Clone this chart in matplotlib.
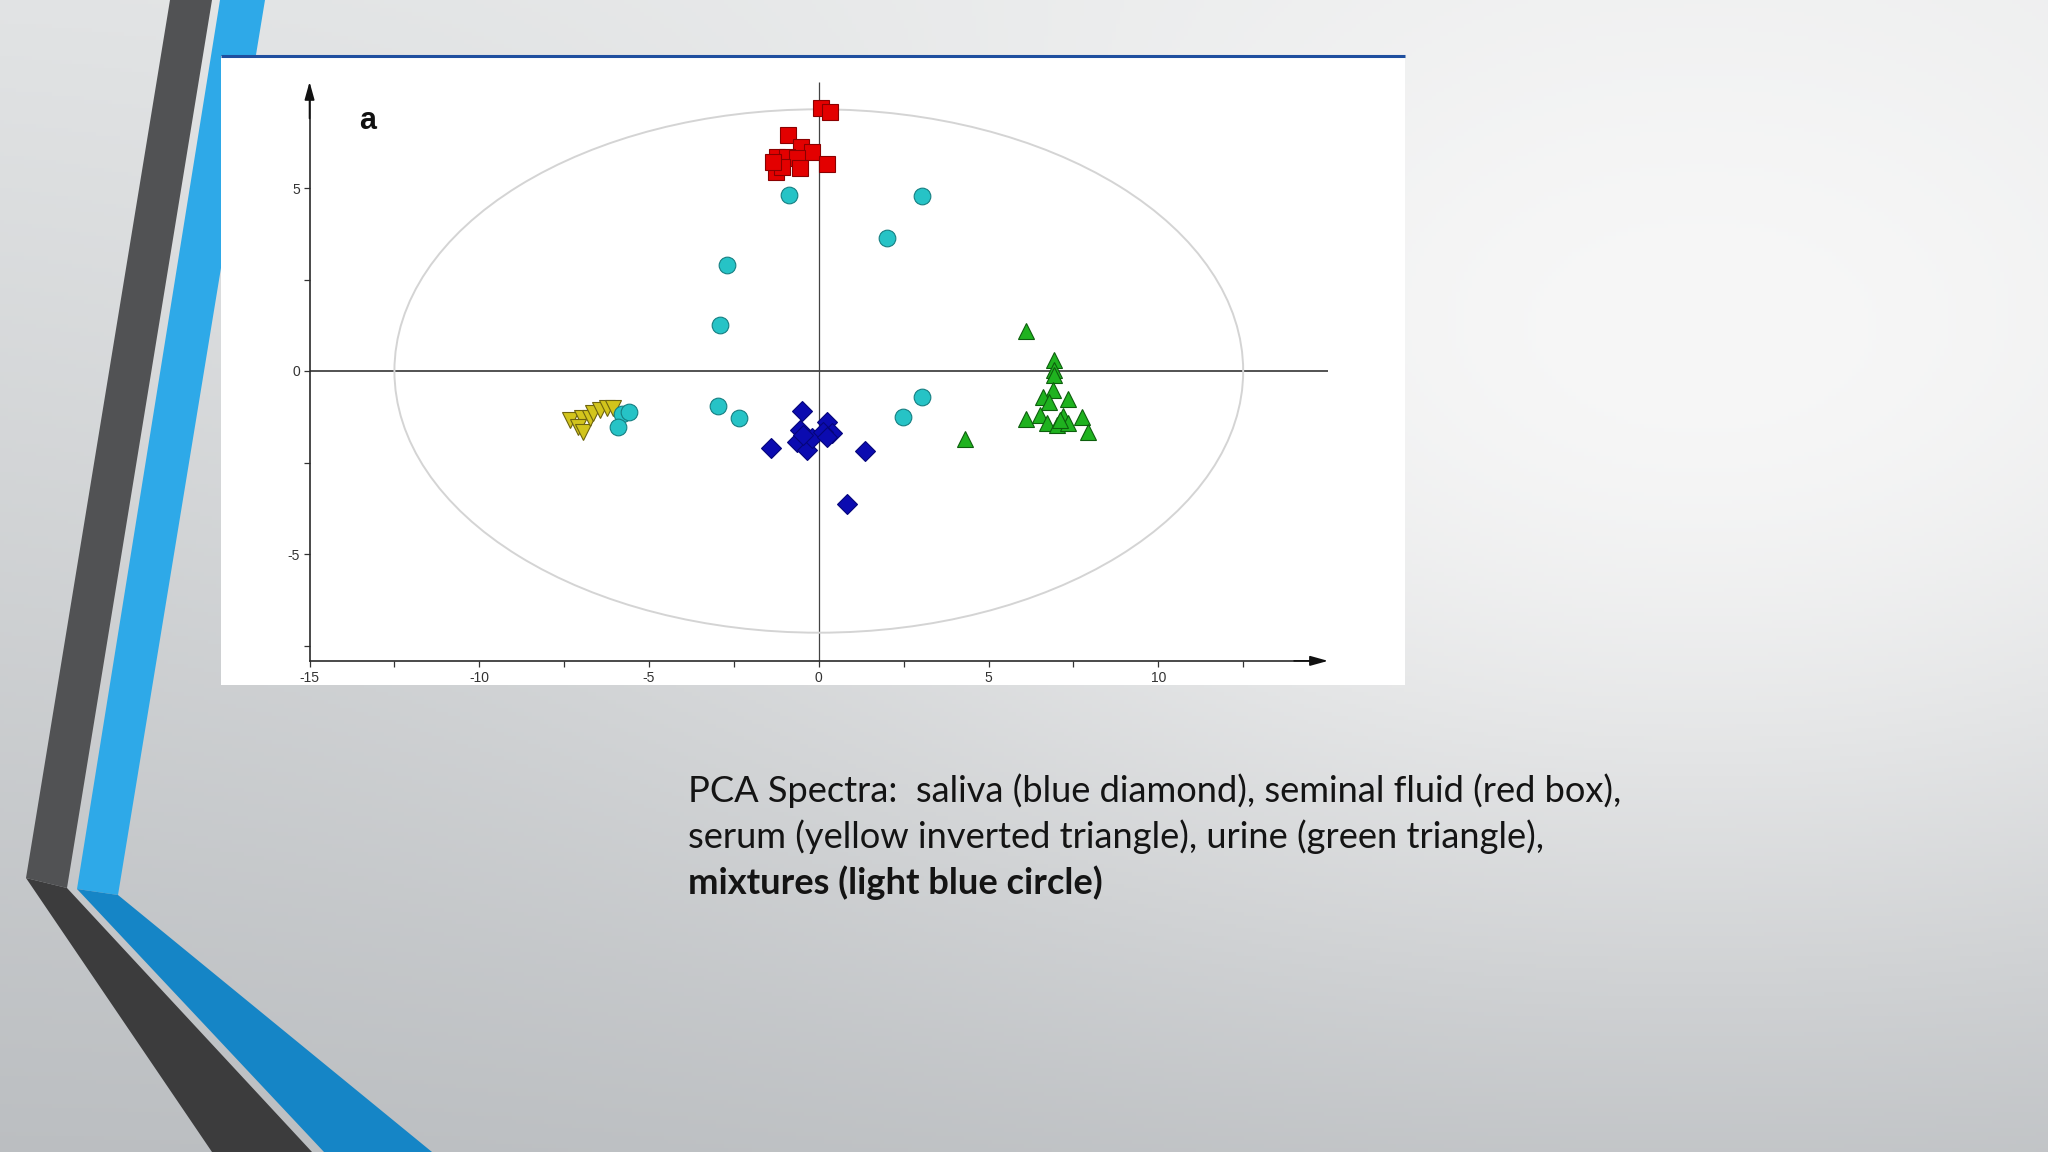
import numpy as np
import matplotlib
matplotlib.use('Agg')
import matplotlib.pyplot as plt
from matplotlib.patches import Polygon, Rectangle, Ellipse
from matplotlib import font_manager

# PCA scores
saliva_x = [-0.49, -1.41, 1.36, 0.84, 0.23, 0.38, -0.55, -0.65, -0.36, -0.21, 0.13, -0.46, 0.23]
saliva_y = [-1.09, -2.10, -2.19, -3.64, -1.40, -1.70, -1.61, -1.93, -2.16, -1.84, -1.66, -1.75, -1.79]

seminal_x = [0.06, 0.33, -0.92, -0.52, -0.21, -1.24, -0.95, -0.65, 0.25, -1.26, -0.55, -1.09, -1.34]
seminal_y = [7.18, 7.09, 6.45, 6.13, 5.99, 5.86, 5.86, 5.81, 5.66, 5.45, 5.54, 5.58, 5.72]

serum_x = [-7.33, -6.98, -7.08, -6.94, -6.74, -6.64, -6.45, -6.25, -6.05]
serum_y = [-1.34, -1.29, -1.52, -1.66, -1.29, -1.16, -1.07, -1.02, -1.02]

urine_x = [6.10, 6.93, 6.93, 6.93, 6.91, 6.59, 7.35, 6.79, 6.10, 6.52, 7.20, 7.74, 6.71, 7.01, 7.35, 7.94, 7.10, 4.31]
urine_y = [1.10, 0.30, 0.03, -0.10, -0.52, -0.70, -0.77, -0.84, -1.32, -1.20, -1.23, -1.27, -1.43, -1.48, -1.43, -1.66, -1.34, -1.86]

mixture_x = [-0.87, 3.04, 2.01, -2.70, -2.92, 3.04, 2.48, -2.97, -2.36, -5.81, -5.59, -5.90]
mixture_y = [4.81, 4.78, 3.63, 2.89, 1.26, -0.70, -1.25, -0.96, -1.29, -1.18, -1.13, -1.52]

x_ticks = [-15, -10, -5, 0, 5, 10]
x_minor = [-12.5, -7.5, -2.5, 2.5, 7.5, 12.5]
y_ticks = [-5, 0, 5]
y_minor = [-7.5, -2.5, 2.5]

# Hotelling ellipse half-axes
ell_a, ell_b = 12.5, 7.15

caption = ["PCA Spectra:  saliva (blue diamond), seminal fluid (red box),",
           "serum (yellow inverted triangle), urine (green triangle),",
           "mixtures (light blue circle)"]

installed = {f.name for f in font_manager.fontManager.ttflist}
tick_font = 'Liberation Sans' if 'Liberation Sans' in installed else 'DejaVu Sans'
cap_font = 'Lato' if 'Lato' in installed else 'DejaVu Sans'

W, H = 2048, 1152
fig = plt.figure(figsize=(W / 100, H / 100), dpi=100)

# ---- slide background ----
bg = fig.add_axes([0, 0, 1, 1])
bg.set_xlim(0, W)
bg.set_ylim(H, 0)
bg.axis('off')

gy, gx = np.mgrid[0:H:4, 0:W:4]
top = np.array([0xe1, 0xe3, 0xe4]) / 255
bot = np.array([0xbb, 0xbe, 0xc1]) / 255
hi = np.array([0xf7, 0xf7, 0xf7]) / 255
t = (gy / H)[..., None]
base = top * (1 - t) + bot * t
d2 = ((gx - 1700) / 950.0) ** 2 + ((gy - 330) / 580.0) ** 2
w = np.exp(-d2)[..., None]
img = base * (1 - w) + hi * w
bg.imshow(img, extent=(0, W, H, 0), aspect='auto', zorder=0)

bg.add_patch(Polygon([(170, 0), (212, 0), (67, 888), (26, 878)], closed=True,
                     fc='#515254', ec='none', zorder=1))
bg.add_patch(Polygon([(220, 0), (265, 0), (118, 895), (77, 889)], closed=True,
                     fc='#2ea9e8', ec='none', zorder=1))
bg.add_patch(Polygon([(26, 878), (67, 888), (312, 1152), (212, 1152)], closed=True,
                     fc='#3c3c3d', ec='none', zorder=1))
bg.add_patch(Polygon([(77, 889), (118, 895), (432, 1152), (324, 1152)], closed=True,
                     fc='#1585c6', ec='none', zorder=1))

# white picture panel with its blue top rule
bg.add_patch(Rectangle((221, 56), 1405 - 221, 685 - 56, fc='white', ec='none', zorder=2))
bg.plot([221, 1405], [56, 56], color='#1f4f9f', lw=2.2, solid_capstyle='butt', zorder=3)

# caption, fitted to the width of the first line
texts = []
for i, line in enumerate(caption):
    texts.append(bg.text(688, 802 + i * 46, line, fontsize=21, family=cap_font,
                         fontweight='bold' if i == 2 else 'normal',
                         color='#141414', ha='left', va='baseline', zorder=3))
fig.canvas.draw()
r = fig.canvas.get_renderer()
wid = texts[0].get_window_extent(r).width
for tx in texts:
    tx.set_fontsize(21 * 936.0 / wid)

# ---- PCA score plot ----
x_lim = (-16, 16)
y_lim = (-8.5, 8.5)
px0, ux = 818.8, 33.95
py0, uy = 371.0, 36.6
left = (px0 + x_lim[0] * ux) / W
right = (px0 + x_lim[1] * ux) / W
top_px = py0 - y_lim[1] * uy
bot_px = py0 - y_lim[0] * uy
ax = fig.add_axes([left, 1 - bot_px / H, right - left, (bot_px - top_px) / H])
ax.set_xlim(*x_lim)
ax.set_ylim(*y_lim)
ax.patch.set_alpha(0)

y_bottom, y_top = -7.92, 7.9
x_end = 15.0
for s in ['top', 'right']:
    ax.spines[s].set_visible(False)
ax.spines['left'].set_position(('data', -15))
ax.spines['bottom'].set_position(('data', y_bottom))
ax.spines['left'].set_bounds(y_bottom, y_top - 0.3)
ax.spines['bottom'].set_bounds(-15, x_end - 0.4)
for s in ['left', 'bottom']:
    ax.spines[s].set_color('#2a2a2a')
    ax.spines[s].set_linewidth(1.2)

ax.annotate('', xy=(x_end, y_bottom), xytext=(x_end - 1, y_bottom),
            arrowprops=dict(arrowstyle='-|>,head_length=0.9,head_width=0.25',
                            color='#111111', lw=1.2, mutation_scale=12,
                            shrinkA=0, shrinkB=0))
ax.annotate('', xy=(-15, y_top), xytext=(-15, y_top - 1),
            arrowprops=dict(arrowstyle='-|>,head_length=0.9,head_width=0.25',
                            color='#111111', lw=1.2, mutation_scale=12,
                            shrinkA=0, shrinkB=0))

ax.set_xticks(x_ticks)
ax.set_xticklabels([str(v) for v in x_ticks])
ax.set_xticks(x_minor, minor=True)
ax.set_yticks(y_ticks)
ax.set_yticklabels([str(v) for v in y_ticks])
ax.set_yticks(y_minor, minor=True)
ax.tick_params(which='both', direction='out', color='#333333', width=0.9)
ax.tick_params(which='major', length=4, labelsize=10, labelcolor='#333333', pad=3)
ax.tick_params(which='minor', length=4)
for lab in ax.get_xticklabels() + ax.get_yticklabels():
    lab.set_family(tick_font)

ax.hlines(0, -15, x_end, color='#444444', lw=1.3, zorder=1)
ax.vlines(0, y_bottom, y_top, color='#444444', lw=0.9, zorder=1)
ax.add_patch(Ellipse((0, 0), 2 * ell_a, 2 * ell_b, fc='none', ec='#d4d4d4', lw=1.4, zorder=1))

ax.plot(saliva_x, saliva_y, 'D', ms=10.5, mfc='#0b0bb0', mec='#05057a', mew=0.8, ls='none', zorder=3)
ax.plot(seminal_x, seminal_y, 's', ms=11, mfc='#e30000', mec='#8a0000', mew=0.8, ls='none', zorder=3)
ax.plot(serum_x, serum_y, 'v', ms=11.5, mfc='#d2c41c', mec='#6e6410', mew=0.8, ls='none', zorder=3)
ax.plot(urine_x, urine_y, '^', ms=11.5, mfc='#1fb21f', mec='#0d5e0d', mew=0.8, ls='none', zorder=3)
ax.plot(mixture_x, mixture_y, 'o', ms=12, mfc='#26c3c6', mec='#167f82', mew=0.8, ls='none', zorder=4)

ax.text(-13.3, 6.83, 'a', fontsize=22, fontweight='bold', family=tick_font,
        ha='center', va='center', color='#111111')

fig.savefig('out.png', dpi=100)
